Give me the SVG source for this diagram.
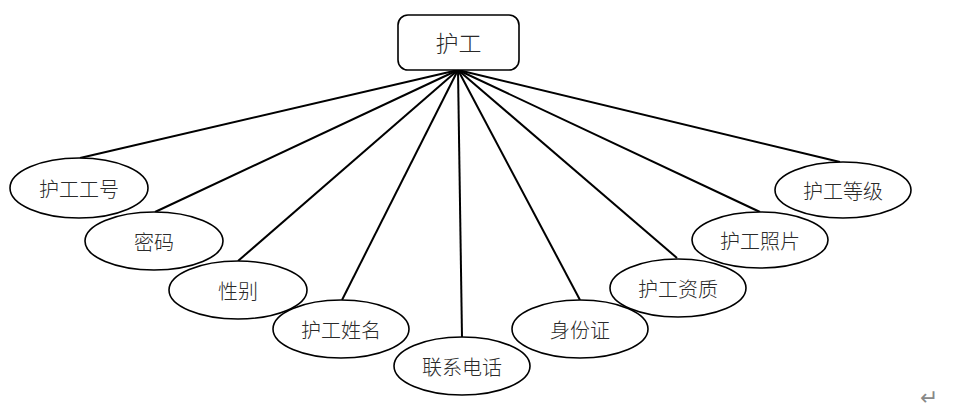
<svg xmlns="http://www.w3.org/2000/svg" width="972" height="417" viewBox="0 0 972 417">
<style>
.e{fill:#fff;stroke:#000;stroke-width:1.6}
.t{font-family:"Noto Sans CJK SC","Noto Sans",sans-serif;font-size:20px;font-weight:300;fill:#2a2a2a;text-anchor:middle;dominant-baseline:central}
.c line{stroke:#000;stroke-width:2}
</style>
<rect width="972" height="417" fill="#fff"/>
<g id="connectors" class="c">
<line x1="458" y1="70" x2="80" y2="158"/>
<line x1="458" y1="70" x2="155" y2="212"/>
<line x1="458" y1="70" x2="238" y2="261"/>
<line x1="458" y1="70" x2="342" y2="300"/>
<line x1="458" y1="70" x2="462" y2="337"/>
<line x1="458" y1="70" x2="580" y2="300"/>
<line x1="458" y1="70" x2="677" y2="258"/>
<line x1="458" y1="70" x2="760" y2="212"/>
<line x1="458" y1="70" x2="840" y2="162"/>
</g>
<g id="hugong">
<rect x="398" y="15" width="121" height="55" rx="10" ry="10" class="e"/>
<text x="458.5" y="42" class="t" style="font-size:23px">护工</text>
</g>
<g id="n1"><ellipse cx="79" cy="188" rx="69" ry="30" class="e"/><text x="79" y="188" class="t">护工工号</text></g>
<g id="n2"><ellipse cx="154" cy="241" rx="69" ry="29" class="e"/><text x="154" y="241" class="t">密码</text></g>
<g id="n3"><ellipse cx="238" cy="290" rx="69" ry="29" class="e"/><text x="238" y="290" class="t">性别</text></g>
<g id="n4"><ellipse cx="341" cy="329" rx="68" ry="29" class="e"/><text x="341" y="329" class="t">护工姓名</text></g>
<g id="n5"><ellipse cx="462" cy="366" rx="68" ry="29" class="e"/><text x="462" y="366" class="t">联系电话</text></g>
<g id="n6"><ellipse cx="580" cy="329" rx="68" ry="29" class="e"/><text x="580" y="329" class="t">身份证</text></g>
<g id="n7"><ellipse cx="678" cy="288" rx="68" ry="29" class="e"/><text x="678" y="288" class="t">护工资质</text></g>
<g id="n8"><ellipse cx="760" cy="240" rx="68" ry="28" class="e"/><text x="760" y="240" class="t">护工照片</text></g>
<g id="n9"><ellipse cx="843" cy="190" rx="68" ry="28" class="e"/><text x="843" y="190" class="t">护工等级</text></g>
<text x="929" y="397" style="font-family:'DejaVu Sans',sans-serif;font-size:22px;fill:#888;text-anchor:middle;dominant-baseline:central">↵</text>
</svg>
